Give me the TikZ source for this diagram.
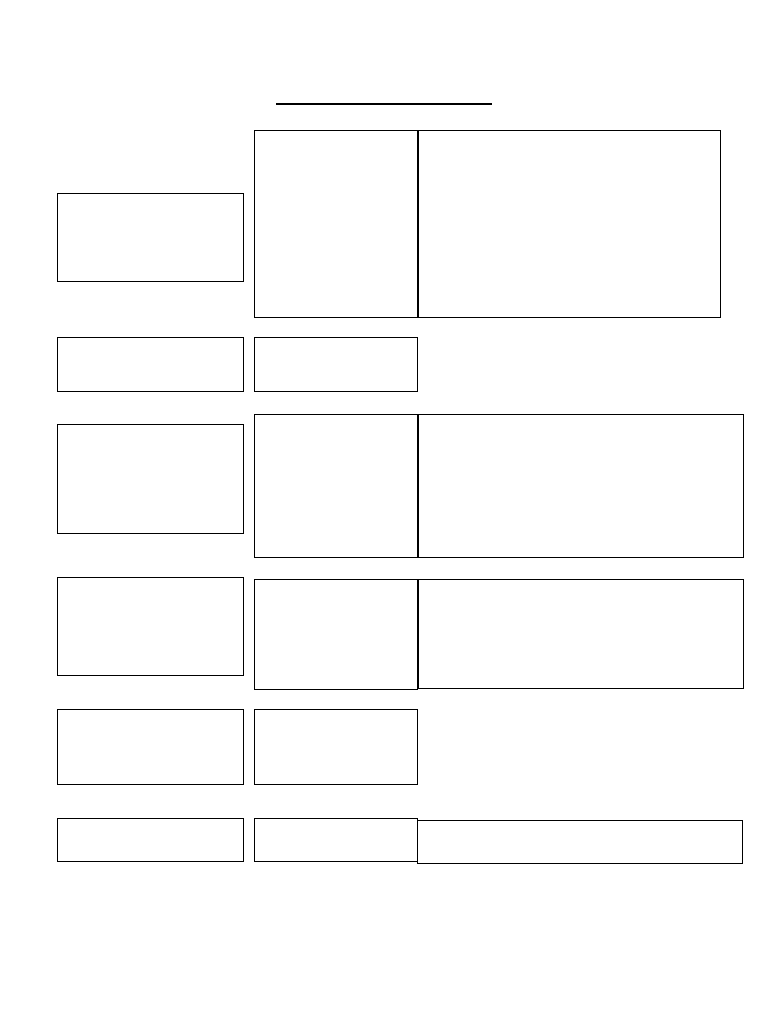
\documentclass[tikz,border=0pt]{standalone}
\usetikzlibrary{positioning}

\begin{document}
\begin{tikzpicture}[
      x=1pt, y=-1pt,
      box/.style={rectangle, draw, line width=0.9pt, inner sep=0pt, anchor=north west},
      rule/.style={line width=1.8pt}
    ]
    \useasboundingbox (0,0) rectangle (768,1024);

    % Title line
    \coordinate (title_left) at (276,104);
    \coordinate (title_right) at (492,104);
    \draw[rule] (title_left) -- (title_right);

    % Row 1
    \node[box, minimum width=186pt, minimum height=88pt] (cue1) at (57,193) {};
    \node[box, minimum width=163pt, minimum height=187pt] (key1) at (254,130) {};
    \node[box, minimum width=302pt, minimum height=187pt] (notes1) at (key1.north east) {};

    % Row 2
    \node[box, minimum width=186pt, minimum height=54pt] (cue2) at (57,337) {};
    \node[box, minimum width=163pt, minimum height=54pt] (key2) at (254,337) {};

    % Row 3
    \node[box, minimum width=186pt, minimum height=109pt] (cue3) at (57,424) {};
    \node[box, minimum width=163pt, minimum height=143pt] (key3) at (254,414) {};
    \node[box, minimum width=325pt, minimum height=143pt] (notes3) at (key3.north east) {};

    % Row 4
    \node[box, minimum width=186pt, minimum height=98pt] (cue4) at (57,577) {};
    \node[box, minimum width=163pt, minimum height=110pt] (key4) at (254,579) {};
    \node[box, minimum width=325pt, minimum height=109pt] (notes4) at (key4.north east) {};

    % Row 5
    \node[box, minimum width=186pt, minimum height=75pt] (cue5) at (57,709) {};
    \node[box, minimum width=163pt, minimum height=75pt] (key5) at (254,709) {};

    % Row 6
    \node[box, minimum width=186pt, minimum height=43pt] (cue6) at (57,818) {};
    \node[box, minimum width=163pt, minimum height=43pt] (key6) at (254,818) {};
    \node[box, minimum width=325pt, minimum height=43pt] (notes6) at (417,820) {};

    \end{tikzpicture}
\end{document}
